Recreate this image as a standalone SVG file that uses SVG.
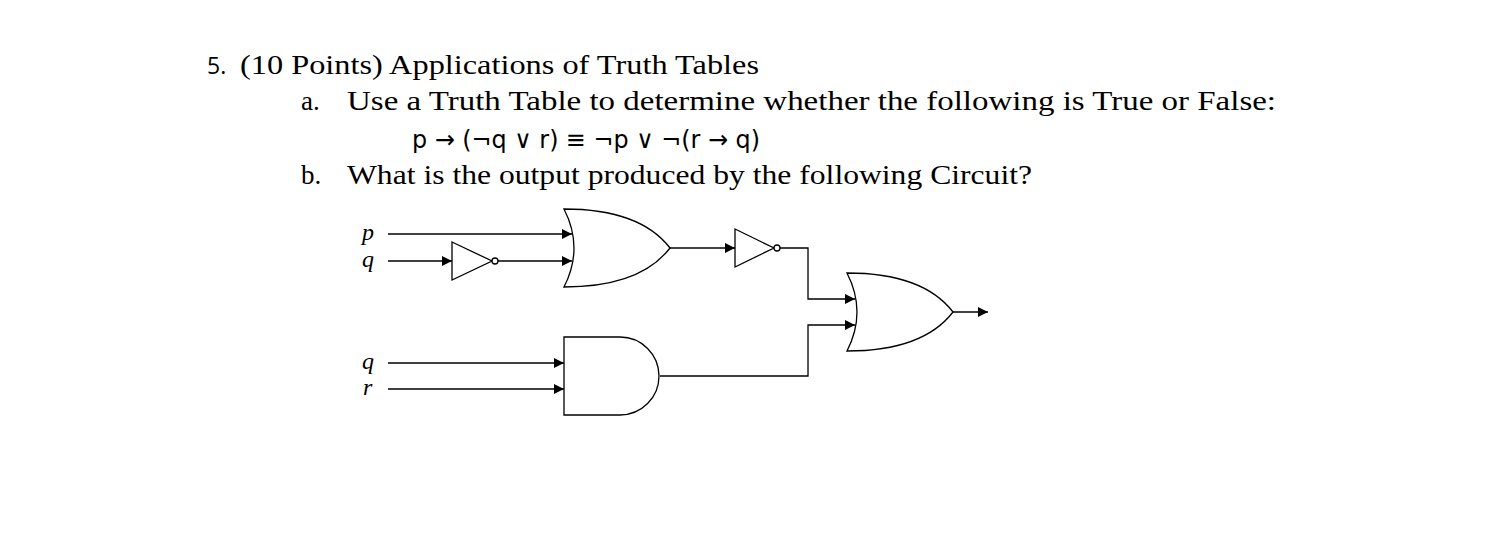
<svg xmlns="http://www.w3.org/2000/svg" width="1505" height="553" viewBox="0 0 1505 553">
<style>
.t{font-family:"Liberation Serif",serif;font-size:27px;fill:#000}
.v{font-family:"Liberation Serif",serif;font-style:italic;font-size:24px;fill:#000}
.g{fill:#fff;stroke:#000;stroke-width:1.3}
.w{fill:none;stroke:#000;stroke-width:1.3}
</style>
<defs><marker id="a" viewBox="0 0 10 10" refX="10" refY="5" markerWidth="10" markerHeight="10" markerUnits="userSpaceOnUse" orient="auto"><path d="M0,0L10,5L0,10z"/></marker></defs>
<rect width="1505" height="553" fill="#fff"/>
<text x="207" y="74" style="font-family:'Open Sans',sans-serif;font-size:23px">5.</text>
<text class="t" x="240" y="74" textLength="519" lengthAdjust="spacingAndGlyphs">(10 Points) Applications of Truth Tables</text>
<text class="t" x="301" y="110">a.</text>
<text class="t" x="347" y="110" textLength="929" lengthAdjust="spacingAndGlyphs">Use a Truth Table to determine whether the following is True or False:</text>
<text x="412" y="148" textLength="348" lengthAdjust="spacingAndGlyphs" style="font-family:'DejaVu Sans',sans-serif;font-size:25px">p → (¬q ∨ r) ≡ ¬p ∨ ¬(r → q)</text>
<text class="t" x="301" y="184">b.</text>
<text class="t" x="347" y="184" textLength="685" lengthAdjust="spacingAndGlyphs">What is the output produced by the following Circuit?</text>
<g id="labels">
<text class="v" x="362" y="240">p</text><text class="v" x="362" y="267">q</text>
<text class="v" x="362" y="369">q</text><text class="v" x="363" y="395">r</text>
</g>
<g id="not1"><path class="g" d="M452,242L492,261L452,280z"/><circle class="g" cx="495" cy="261" r="3"/></g>
<g id="or1"><path class="g" d="M564,209Q640,209 670,248Q640,287 564,287Q584,248 564,209z"/></g>
<g id="not2"><path class="g" d="M735,229L774,248L735,267z"/><circle class="g" cx="777" cy="248" r="3"/></g>
<g id="and1"><path class="g" d="M564,337L620,337A39,39 0 0 1 620,415L564,415z"/></g>
<g id="or2"><path class="g" d="M847,273Q923,273 953,312Q923,351 847,351Q867,312 847,273z"/></g>
<g id="connectors">
<path class="w" d="M388,234H572" marker-end="url(#a)"/>
<path class="w" d="M388,261H452" marker-end="url(#a)"/>
<path class="w" d="M498,261H572" marker-end="url(#a)"/>
<path class="w" d="M670,248H735" marker-end="url(#a)"/>
<path class="w" d="M780,248H808V299H855" marker-end="url(#a)"/>
<path class="w" d="M660,376H808V325H855" marker-end="url(#a)"/>
<path class="w" d="M388,363H564" marker-end="url(#a)"/>
<path class="w" d="M388,389H564" marker-end="url(#a)"/>
<path class="w" d="M953,312H988" marker-end="url(#a)"/>
</g>
</svg>
